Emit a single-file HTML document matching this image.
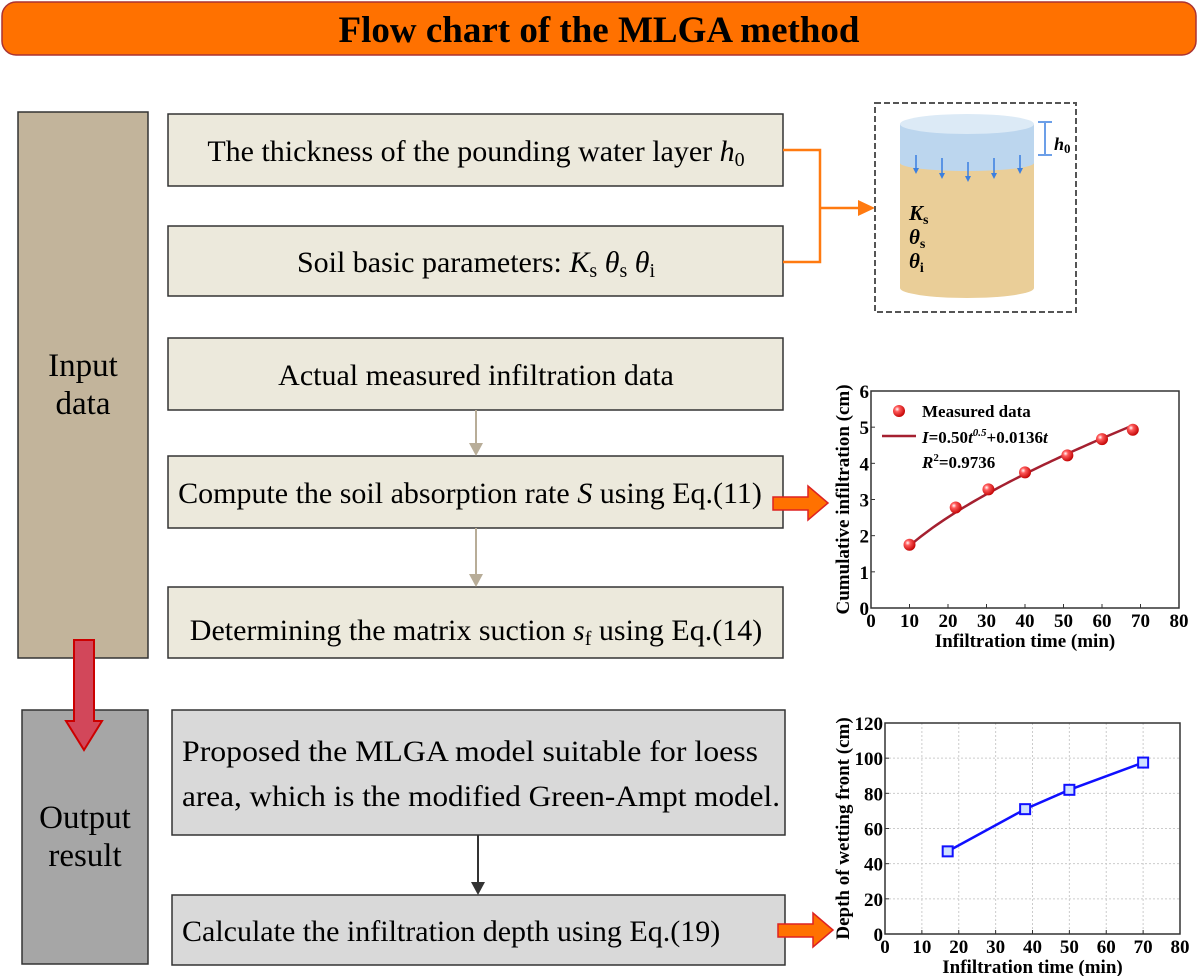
<!DOCTYPE html>
<html><head><meta charset="utf-8"><style>
body{margin:0;background:#fff;}
svg{display:block;font-family:"Liberation Serif",serif;}
</style></head><body>
<svg width="1200" height="976" viewBox="0 0 1200 976" xmlns="http://www.w3.org/2000/svg">
<defs>
<radialGradient id="ball" cx="0.35" cy="0.35" r="0.7"><stop offset="0" stop-color="#fff"/><stop offset="0.3" stop-color="#ff5a5a"/><stop offset="1" stop-color="#c00000"/></radialGradient>
</defs>
<g>
<rect x="2" y="2" width="1194" height="53" rx="14" fill="#FF7100" stroke="#a33" stroke-width="1.5"/>
<text x="599" y="42" font-size="37" font-weight="bold" text-anchor="middle" fill="#000">Flow chart of the MLGA method</text>
</g>
<g>
<rect x="18" y="112" width="130" height="546" fill="#C2B49B" stroke="#333" stroke-width="1.5"/>
<text x="83" y="376" font-size="33" text-anchor="middle">Input</text>
<text x="83" y="414" font-size="33" text-anchor="middle">data</text>
</g>
<g>
<rect x="22" y="710" width="126" height="254" fill="#A6A6A6" stroke="#333" stroke-width="1.5"/>
<text x="85" y="828" font-size="33" text-anchor="middle">Output</text>
<text x="85" y="866" font-size="33" text-anchor="middle">result</text>
</g>
<g>
<polygon points="74,640 94,640 94,721 102,721 84,750 66,721 74,721" fill="#D2475A" stroke="#c00" stroke-width="2"/>
</g>
<g fill="#ECE9DC" stroke="#333" stroke-width="1.5" font-size="30">
<g><rect x="168" y="114" width="615" height="72"/>
<text x="476" y="161" text-anchor="middle" stroke="none" fill="#000">The thickness of the pounding water layer <tspan font-style="italic">h</tspan><tspan font-size="20" dy="5">0</tspan></text></g>
<g><rect x="168" y="226" width="615" height="70"/>
<text x="476" y="272" text-anchor="middle" stroke="none" fill="#000">Soil basic parameters: <tspan font-style="italic">K</tspan><tspan font-size="20" dy="5">s</tspan><tspan dy="-5"> </tspan><tspan font-style="italic">θ</tspan><tspan font-size="20" dy="5">s</tspan><tspan dy="-5"> </tspan><tspan font-style="italic">θ</tspan><tspan font-size="20" dy="5">i</tspan></text></g>
<g><rect x="168" y="338" width="615" height="72"/>
<text x="476" y="385" text-anchor="middle" stroke="none" fill="#000">Actual measured infiltration data</text></g>
<g><rect x="168" y="456" width="615" height="72"/>
<text x="470" y="503" text-anchor="middle" stroke="none" fill="#000">Compute the soil absorption rate <tspan font-style="italic">S</tspan> using Eq.(11)</text></g>
<g><rect x="168" y="587" width="615" height="71"/>
<text x="476" y="640" text-anchor="middle" stroke="none" fill="#000">Determining the matrix suction <tspan font-style="italic">s</tspan><tspan font-size="20" dy="5">f</tspan><tspan dy="-5">  using Eq.(14)</tspan></text></g>
</g>
<g fill="#D9D9D9" stroke="#333" stroke-width="1.5" font-size="30">
<g><rect x="172" y="710" width="613" height="125"/>
<text x="182" y="761" stroke="none" fill="#000" textLength="576" lengthAdjust="spacingAndGlyphs">Proposed the MLGA model suitable for loess</text>
<text x="182" y="806" stroke="none" fill="#000" textLength="598" lengthAdjust="spacingAndGlyphs">area, which is the modified Green-Ampt model.</text></g>
<g><rect x="172" y="895" width="613" height="70"/>
<text x="182" y="941" stroke="none" fill="#000">Calculate the infiltration depth using Eq.(19)</text></g>
</g>
<g>
<line x1="476" y1="410" x2="476" y2="446" stroke="#B8AD98" stroke-width="2"/><polygon points="469,443 483,443 476,456" fill="#B8AD98"/>
<line x1="476" y1="528" x2="476" y2="577" stroke="#B8AD98" stroke-width="2"/><polygon points="469,574 483,574 476,587" fill="#B8AD98"/>
<line x1="478" y1="835" x2="478" y2="885" stroke="#333" stroke-width="2"/><polygon points="471,882 485,882 478,895" fill="#333"/>
</g>
<g stroke="#FF7A10" stroke-width="2.5" fill="none">
<polyline points="783,150 820,150 820,262 783,262"/><line x1="820" y1="208" x2="862" y2="208"/>
<polygon points="858,200 875,208 858,216" fill="#FF7A10" stroke="none"/>
</g>
<g><polygon points="773,497 808,497 808,486 828,503 808,520 808,510 773,510" fill="#FF7100" stroke="#d22" stroke-width="1.5"/></g>
<g><polygon points="778,924 813,924 813,913 833,930 813,947 813,937 778,937" fill="#FF7100" stroke="#d22" stroke-width="1.5"/></g>
<g>
<rect x="875" y="103" width="201" height="209" fill="#fff" stroke="#555" stroke-width="2" stroke-dasharray="6,3"/>
<rect x="900" y="163" width="134" height="125" fill="#EACE98"/>
<ellipse cx="967" cy="288" rx="67" ry="10" fill="#EACE98"/>
<rect x="900" y="124" width="134" height="39" fill="#BCD6EE"/>
<ellipse cx="967" cy="163" rx="67" ry="8" fill="#BCD6EE"/>
<ellipse cx="967" cy="124" rx="67" ry="10" fill="#DCEAF6"/>
<g stroke="#3a7fe0" stroke-width="1.5"><line x1="916" y1="155" x2="916" y2="170"/><line x1="942" y1="158" x2="942" y2="175"/><line x1="968" y1="162" x2="968" y2="178"/><line x1="994" y1="158" x2="994" y2="175"/><line x1="1020" y1="155" x2="1020" y2="170"/>
<line x1="1038" y1="122" x2="1052" y2="122"/><line x1="1038" y1="155" x2="1052" y2="155"/><line x1="1045" y1="123" x2="1045" y2="154"/></g>
<g fill="#3a7fe0"><polygon points="913,168 919,168 916,174"/><polygon points="939,173 945,173 942,179"/><polygon points="965,176 971,176 968,182"/><polygon points="991,173 997,173 994,179"/><polygon points="1017,168 1023,168 1020,174"/></g>
<text x="1054" y="150" font-size="18" font-weight="bold" font-style="italic">h<tspan font-size="13" dy="3" font-style="normal">0</tspan></text>
<g font-size="21" font-weight="bold" font-style="italic">
<text x="909" y="220">K<tspan font-size="14" dy="4" font-style="normal">s</tspan></text>
<text x="909" y="244">θ<tspan font-size="14" dy="4" font-style="normal">s</tspan></text>
<text x="909" y="268">θ<tspan font-size="14" dy="4" font-style="normal">i</tspan></text></g>
</g>
<g id="chart1"></g>
<g id="chart2"></g>
</svg>
<script>
const c1Times=[10,22,30.5,40,51,60,68];
const c1Values=[1.75,2.78,3.28,3.75,4.22,4.67,4.93];
const c1XTicks=[0,10,20,30,40,50,60,70,80];
const c1YTicks=[0,1,2,3,4,5,6];
const c2Times=[17,38,50,70];
const c2Values=[47,71,82,97.5];
const c2XTicks=[0,10,20,30,40,50,60,70,80];
const c2YTicks=[0,20,40,60,80,100,120];
const NS='http://www.w3.org/2000/svg';
function mk(p,t,a){const e=document.createElementNS(NS,t);for(const k in a)e.setAttribute(k,a[k]);p.appendChild(e);return e;}
function axes(g,L,R,T,B,xt,yt,xl,yl,grid,ytw){
 const sx=v=>L+(v-xt[0])/(xt[xt.length-1]-xt[0])*(R-L);
 const sy=v=>B-(v-yt[0])/(yt[yt.length-1]-yt[0])*(B-T);
 xt.forEach(v=>{const x=sx(v);
  if(grid){const gl=mk(g,'line',{x1:x,x2:x,y1:T,y2:B,stroke:'#ccc','stroke-dasharray':'2,2'});}
  mk(g,'line',{x1:x,x2:x,y1:B,y2:B-4,stroke:'#333'});
  const t=mk(g,'text',{x:x,y:B+19,'font-size':19,'font-weight':'bold','text-anchor':'middle'});t.textContent=v;
  });
 yt.forEach(v=>{const y=sy(v);
  if(grid){const gl=mk(g,'line',{x1:L,x2:R,y1:y,y2:y,stroke:'#ccc','stroke-dasharray':'2,2'});}
  mk(g,'line',{x1:L,x2:L+4,y1:y,y2:y,stroke:'#333'});
  const t=mk(g,'text',{x:L-2,y:y+7,'font-size':19,'font-weight':'bold','text-anchor':'end'});t.textContent=v;
  });
 const fr=mk(g,'rect',{x:L,y:T,width:R-L,height:B-T,fill:'none',stroke:'#333','stroke-width':1.5});
 
 const a=mk(g,'text',{x:(L+R)/2,y:B+39,'font-size':19,'font-weight':'bold','text-anchor':'middle'});a.textContent=xl;
 
 const b=mk(g,'text',{x:0,y:0,'font-size':19,'font-weight':'bold','text-anchor':'middle',transform:`translate(${L-ytw},${(T+B)/2}) rotate(-90)`});b.textContent=yl;
 
 return [sx,sy];
}
const g1=document.getElementById('chart1');
const [x1,y1]=axes(g1,871,1179,391,608,c1XTicks,c1YTicks,'Infiltration time (min)','Cumulative infiltration (cm)',false,22);
let d='';for(let t=c1Times[0];t<=c1Times[c1Times.length-1];t+=1){const v=0.5*Math.sqrt(t)+0.0136*t;d+=(d?'L':'M')+x1(t)+','+y1(v);}
const fit=mk(g1,'path',{d:d,fill:'none',stroke:'#A52030','stroke-width':2.5});

c1Times.forEach((t,i)=>{const c=mk(g1,'circle',{cx:x1(t),cy:y1(c1Values[i]),r:6,fill:'url(#ball)'});
 });
const lg=mk(g1,'g',{});
mk(lg,'circle',{cx:899,cy:411,r:6,fill:'url(#ball)'});
let lt=mk(lg,'text',{x:922,y:417,'font-size':17,'font-weight':'bold'});lt.textContent='Measured data';
mk(lg,'line',{x1:882,x2:916,y1:436,y2:436,stroke:'#A52030','stroke-width':2.5});
lt=mk(lg,'text',{x:922,y:443,'font-size':17,'font-weight':'bold'});lt.innerHTML='<tspan font-style="italic">I</tspan>=0.50<tspan font-style="italic">t</tspan><tspan font-size="11" dy="-7" font-style="italic">0.5</tspan><tspan dy="7">+0.0136</tspan><tspan font-style="italic">t</tspan>';
lt=mk(lg,'text',{x:922,y:468,'font-size':17,'font-weight':'bold'});lt.innerHTML='<tspan font-style="italic">R</tspan><tspan font-size="11" dy="-7">2</tspan><tspan dy="7">=0.9736</tspan>';
const g2=document.getElementById('chart2');
const [x2,y2]=axes(g2,885,1180,723,934,c2XTicks,c2YTicks,'Infiltration time (min)','Depth of wetting front (cm)',true,36);
const ln=mk(g2,'polyline',{points:c2Times.map((t,i)=>x2(t)+','+y2(c2Values[i])).join(' '),fill:'none',stroke:'#1010ff','stroke-width':2.5});

c2Times.forEach((t,i)=>{const r=mk(g2,'rect',{x:x2(t)-5,y:y2(c2Values[i])-5,width:10,height:10,fill:'#cfe0ff',stroke:'#1010ff','stroke-width':2});
 });
</script>
</body></html>
